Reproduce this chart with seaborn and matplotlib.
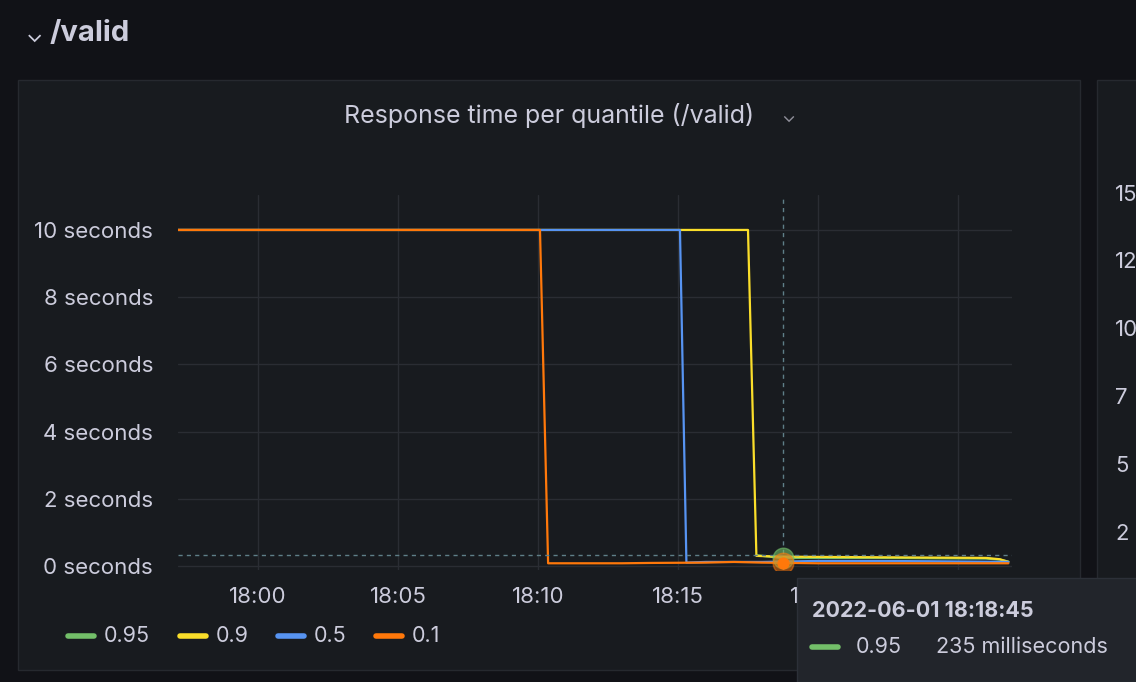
import matplotlib
matplotlib.use("Agg")
import matplotlib.pyplot as plt
import seaborn as sns
import pandas as pd
from matplotlib.patches import Rectangle

sns.set_style("dark")
plt.rcParams['font.family'] = ['Inter', 'DejaVu Sans']

# minutes after 18:00
t_p95 = [17.8, 18.75, 20, 22, 24, 26, 26.5, 26.8]
v_p95 = [0.32, 0.235, 0.24, 0.24, 0.23, 0.22, 0.19, 0.13]
t_p90 = [-2.86, 17.5, 17.8, 18.5, 20, 22, 24, 26, 26.5, 26.8]
v_p90 = [10, 10, 0.3, 0.28, 0.27, 0.26, 0.25, 0.24, 0.2, 0.12]
t_p50 = [-2.86, 15.07, 15.3, 16, 18, 20, 22, 24, 26.8]
v_p50 = [10, 10, 0.1, 0.12, 0.12, 0.15, 0.15, 0.14, 0.12]
t_p10 = [-2.86, 10.07, 10.36, 13, 14, 16, 17, 18, 19, 20, 22, 24, 26.8]
v_p10 = [10, 10, 0.08, 0.08, 0.09, 0.1, 0.12, 0.1, 0.09, 0.08, 0.08, 0.08, 0.08]
series = ["0.95", "0.9", "0.5", "0.1"]
colors = ["#73bf69", "#fade2a", "#5794f2", "#ff780a"]
xticks = [0, 5, 10, 15, 20, 25]
xlabels = ["18:00", "18:05", "18:10", "18:15", "18:20", "18:25"]
yticks = [0, 2, 4, 6, 8, 10]
ylabels = [f"{v} seconds" for v in yticks]

frames = []
for name, t, v in zip(series, [t_p95, t_p90, t_p50, t_p10], [v_p95, v_p90, v_p50, v_p10]):
    frames.append(pd.DataFrame({"t": t, "v": v, "q": name}))
df = pd.concat(frames)

W, H = 1136, 682
fig = plt.figure(figsize=(W / 100, H / 100), dpi=100, facecolor="#111217")
fig.patches.append(Rectangle((18 / W, 1 - 670 / H), 1062 / W, 590 / H, transform=fig.transFigure,
                             facecolor="#181b1f", edgecolor="#26292f", lw=1, zorder=-2))
fig.patches.append(Rectangle((1097 / W, 1 - 670 / H), 60 / W, 590 / H, transform=fig.transFigure,
                             facecolor="#181b1f", edgecolor="#26292f", lw=1, zorder=-2))
fig.text(26 / W, 1 - 36 / H, "⌄", color="#ccccdc", fontsize=16, va="center")
fig.text(50 / W, 1 - 34 / H, "/valid", color="#ccccdc", fontsize=21, fontweight="bold", va="center")
fig.text(549 / W, 1 - 115 / H, "Response time per quantile (/valid)", color="#ccccdc", fontsize=18,
         ha="center", va="center")
fig.text(788 / W, 1 - 117 / H, "⌄", color="#8e8e99", fontsize=13, ha="center", va="center")
for lab, y in zip(["15", "12", "10", "7", "5", "2"], [195, 262, 330, 398, 466, 534]):
    fig.text(1115 / W, 1 - y / H, lab, color="#ccccdc", fontsize=16, va="center")

ax = fig.add_axes([178 / W, 1 - 570 / H, 834 / W, 375 / H])
ax.set_zorder(1)
ax.set_facecolor("#181b1f")
sns.lineplot(data=df, x="t", y="v", hue="q", hue_order=series, palette=colors, ax=ax,
             legend=False, lw=1.6, estimator=None, sort=False)
ax.set_xlim(-2.86, 26.93)
ax.set_ylim(-0.12, 11.04)
ax.set_xticks(xticks, xlabels)
ax.set_yticks(yticks, ylabels)
ax.tick_params(colors="#ccccdc", labelsize=16, length=0, pad=18)
ax.tick_params(axis="x", pad=12)
ax.grid(True, color="#2a2d33", lw=1)
for s in ax.spines.values():
    s.set_visible(False)
ax.set_xlabel("")
ax.set_ylabel("")
ax.axvline(18.75, color="#5f7f88", ls=(0, (3, 3)), lw=1)
ax.axhline(0.33, color="#5f7f88", ls=(0, (3, 3)), lw=1)
ax.scatter([18.75], [0.235], s=220, color="#73bf69", alpha=0.6, zorder=5)
ax.scatter([18.75], [0.08], s=220, color="#ff780a", alpha=0.5, zorder=5)
ax.scatter([18.75], [0.08], s=60, color="#ff780a", zorder=6)

# legend
for i, (name, c) in enumerate(zip(series, colors)):
    x0 = [68, 180, 278, 376][i]
    fig.lines.append(plt.Line2D([x0 / W, (x0 + 26) / W], [1 - 636 / H] * 2, color=c, lw=4,
                                transform=fig.transFigure, solid_capstyle="round"))
    fig.text((x0 + 36) / W, 1 - 636 / H, name, color="#ccccdc", fontsize=15.5, va="center")

# tooltip
fig.patches.append(Rectangle((797 / W, 0), 340 / W, 104 / H, transform=fig.transFigure,
                             facecolor="#22252b", edgecolor="#2c3038", lw=1, zorder=10))
fig.text(812 / W, 1 - 611 / H, "2022-06-01 18:18:45", color="#ccccdc", fontsize=15.5,
         fontweight="bold", va="center", zorder=11)
fig.lines.append(plt.Line2D([812 / W, 838 / W], [1 - 647 / H] * 2, color="#73bf69", lw=4,
                            transform=fig.transFigure, zorder=11, solid_capstyle="round"))
fig.text(856 / W, 1 - 647 / H, "0.95", color="#ccccdc", fontsize=15.5, va="center", zorder=11)
fig.text(936 / W, 1 - 647 / H, "235 milliseconds", color="#ccccdc", fontsize=15.5, va="center", zorder=11)

fig.savefig("out.png", dpi=100, facecolor=fig.get_facecolor())
